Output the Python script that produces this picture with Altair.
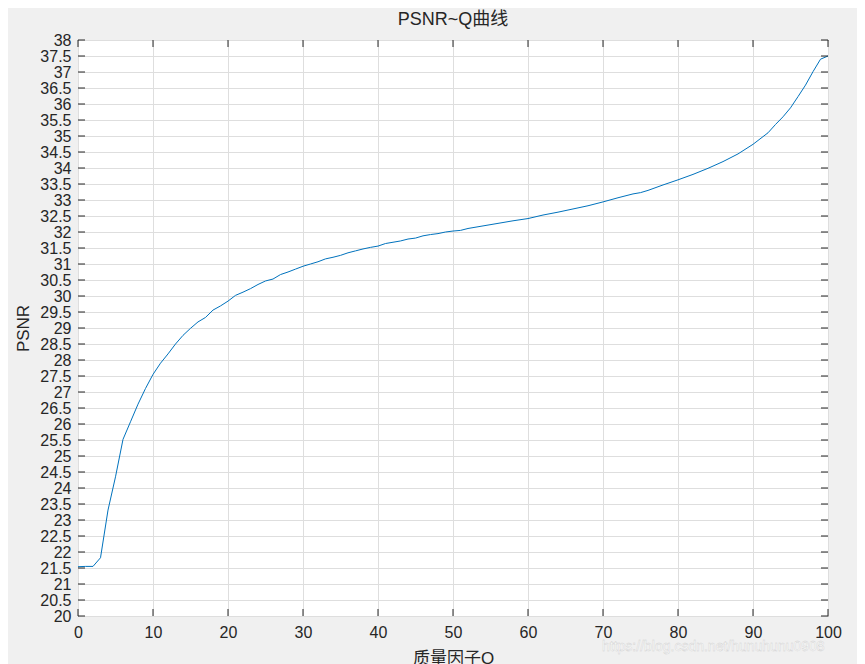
import altair as alt
import pandas as pd

# ---- data ----
Q = [0, 1, 2, 3, 4, 5, 6, 7, 8, 9, 10, 11, 12, 13, 14, 15, 16, 17, 18, 19,
     20, 21, 22, 23, 24, 25, 26, 27, 28, 29, 30, 31, 32, 33, 34, 35, 36, 37, 38, 39,
     40, 41, 42, 43, 44, 45, 46, 47, 48, 49, 50, 51, 52, 54, 56, 58, 60, 62, 64, 66,
     68, 70, 72, 74, 75, 76, 78, 80, 82, 84, 86, 88, 90, 92, 93, 94, 95, 96, 97, 98,
     99, 100]
PSNR = [21.54, 21.55, 21.55, 21.82, 23.31, 24.35, 25.52, 26.07, 26.62, 27.11,
        27.55, 27.90, 28.19, 28.50, 28.77, 28.99, 29.19, 29.33, 29.56, 29.69,
        29.84, 30.02, 30.12, 30.23, 30.36, 30.47, 30.53, 30.67, 30.75, 30.84,
        30.93, 31.00, 31.07, 31.16, 31.21, 31.27, 31.35, 31.41, 31.47, 31.52,
        31.56, 31.64, 31.68, 31.72, 31.78, 31.81, 31.88, 31.92, 31.95, 32.00,
        32.03, 32.05, 32.11, 32.19, 32.27, 32.35, 32.42, 32.53, 32.62, 32.72,
        32.82, 32.94, 33.07, 33.19, 33.23, 33.30, 33.47, 33.63, 33.80, 33.99,
        34.20, 34.44, 34.74, 35.10, 35.36, 35.60, 35.88, 36.23, 36.59, 37.01,
        37.40, 37.50]

X_TICKS = [0, 10, 20, 30, 40, 50, 60, 70, 80, 90, 100]
Y_TICKS = [20, 20.5, 21, 21.5, 22, 22.5, 23, 23.5, 24, 24.5, 25, 25.5, 26, 26.5,
           27, 27.5, 28, 28.5, 29, 29.5, 30, 30.5, 31, 31.5, 32, 32.5, 33, 33.5,
           34, 34.5, 35, 35.5, 36, 36.5, 37, 37.5, 38]

TITLE = "PSNR~Q曲线"
X_TITLE = "质量因子Q"
Y_TITLE = "PSNR"
WATERMARK = ["https://blog.csdn.net/hunuhunu0908"]

FONT = "Liberation Sans, Arial, Noto Sans CJK SC"
INK = "#262626"
W, H = 750, 576

df = pd.DataFrame({"Q": Q, "PSNR": PSNR})
xt = pd.DataFrame({"Q": X_TICKS})
yt = pd.DataFrame({"PSNR": Y_TICKS})
wm = pd.DataFrame({"t": WATERMARK})

xscale = alt.Scale(domain=[0, 100], nice=False, zero=False)
yscale = alt.Scale(domain=[20, 38], nice=False, zero=False)

x_axis = alt.Axis(values=X_TICKS, format="~f", grid=True, ticks=False,
                  domain=False, labelPadding=8, labelOverlap=False,
                  labelFlush=False, titleY=47,
                  titleBaseline="alphabetic", titleFontSize=17)
y_axis = alt.Axis(values=Y_TICKS, format="~f", grid=True, ticks=False,
                  domain=False, labelPadding=7, labelOverlap=False,
                  labelFlush=False, titleX=-50,
                  titleBaseline="alphabetic", titleFontSize=17)


def xenc():
    return alt.X("Q:Q", scale=xscale, title=X_TITLE, axis=x_axis)


def yenc():
    return alt.Y("PSNR:Q", scale=yscale, title=Y_TITLE, axis=y_axis)


line = alt.Chart(df).mark_line(color="#0072BD", strokeWidth=1).encode(
    x=xenc(), y=yenc())

left_ticks = alt.Chart(yt).mark_rule(color=INK, strokeWidth=1).encode(
    y=yenc(), x=alt.value(0), x2=alt.value(7))
right_ticks = alt.Chart(yt).mark_rule(color=INK, strokeWidth=1).encode(
    y=yenc(), x=alt.value(W), x2=alt.value(W - 7))
bottom_ticks = alt.Chart(xt).mark_rule(color=INK, strokeWidth=1).encode(
    x=xenc(), y=alt.value(H), y2=alt.value(H - 7))
top_ticks = alt.Chart(xt).mark_rule(color=INK, strokeWidth=1).encode(
    x=xenc(), y=alt.value(0), y2=alt.value(7))

watermark = alt.Chart(wm).mark_text(
    align="left", baseline="middle", fontSize=14, font="Liberation Sans",
    fill="#ffffff", stroke="#cfcfcf", strokeWidth=0.4
).encode(text="t:N", x=alt.value(524), y=alt.value(607))

chart = alt.layer(
    line, left_ticks, right_ticks, bottom_ticks, top_ticks, watermark
).properties(
    width=W, height=H,
    title=alt.TitleParams(TITLE, fontSize=18, font=FONT, fontWeight="normal",
                          color=INK, anchor="middle", offset=3),
    padding={"left": 70, "top": 32, "right": 29, "bottom": 48},
    autosize=alt.AutoSizeParams(type="none"),
).configure(
    background="#f0f0f0",
).configure_view(
    fill="white", stroke=INK, strokeWidth=1,
).configure_axis(
    labelFont=FONT, labelFontSize=16, labelColor=INK,
    titleFont=FONT, titleColor=INK, titleFontWeight="normal",
    gridColor="#dedede", gridWidth=1, gridOpacity=1,
)

chart.save("out.html", embed_options={"renderer": "svg", "actions": False})
